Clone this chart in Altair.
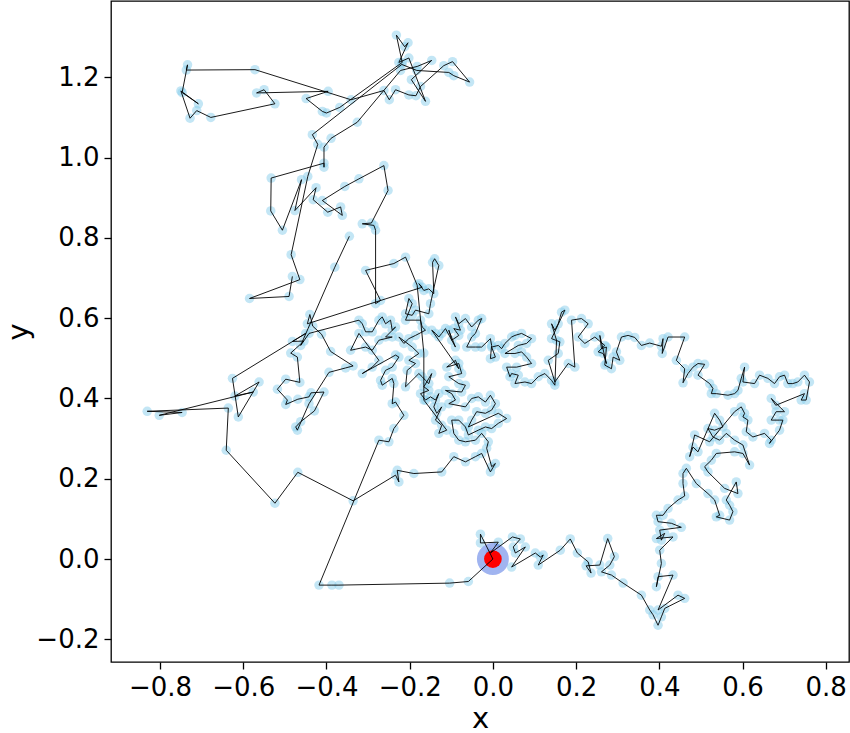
import altair as alt
import pandas as pd

# random-walk path (segments in path order)
seg_start = [
    (-0.345, 0.804), (-0.380, 0.727), (-0.462, 0.532), (-0.442, 0.562), (-0.322, 0.595),
    (-0.314, 0.586), (-0.306, 0.566), (-0.290, 0.566), (-0.274, 0.595), (-0.266, 0.603),
    (-0.258, 0.586), (-0.246, 0.595), (-0.242, 0.570), (-0.234, 0.578), (-0.258, 0.553),
    (-0.242, 0.553), (-0.274, 0.545), (-0.290, 0.520), (-0.306, 0.528), (-0.342, 0.520),
    (-0.322, 0.562), (-0.274, 0.495), (-0.290, 0.478), (-0.314, 0.462), (-0.234, 0.508),
    (-0.226, 0.503), (-0.242, 0.478), (-0.258, 0.470), (-0.270, 0.445), (-0.266, 0.433),
    (-0.242, 0.450), (-0.238, 0.437), (-0.242, 0.387), (-0.234, 0.391), (-0.214, 0.358),
    (-0.238, 0.325), (-0.250, 0.292), (-0.274, 0.296), (-0.418, -0.065), (-0.387, -0.065),
    (-0.370, -0.065), (-0.104, -0.060), (-0.059, -0.056),
]

seg_right = [
    (0.0, 0.0), (-0.030, 0.062), (-0.030, 0.040), (0.013, 0.042), (-0.006, 0.015),
    (0.047, 0.055), (0.066, 0.050), (0.049, 0.030), (0.054, 0.015), (0.078, 0.030),
    (0.045, -0.020), (0.102, 0.015), (0.114, 0.005), (0.121, 0.010), (0.109, -0.015),
    (0.162, 0.022), (0.186, 0.050), (0.203, 0.015), (0.229, -0.007), (0.236, -0.035),
    (0.224, -0.017), (0.257, -0.015), (0.276, 0.051), (0.292, 0.006), (0.281, -0.015),
    (0.261, -0.032), (0.285, -0.040), (0.313, -0.060), (0.357, -0.090), (0.377, -0.127),
    (0.385, -0.139), (0.397, -0.165), (0.405, -0.144), (0.413, -0.123), (0.461, -0.098),
    (0.445, -0.090), (0.397, -0.127), (0.433, -0.040), (0.397, -0.044), (0.393, -0.069),
    (0.405, -0.011), (0.401, 0.022), (0.433, 0.055), (0.393, 0.051), (0.413, 0.064),
    (0.405, 0.047), (0.401, 0.072), (0.453, 0.079), (0.429, 0.089), (0.397, 0.093),
    (0.393, 0.109), (0.409, 0.109), (0.421, 0.126), (0.445, 0.147), (0.461, 0.157),
    (0.457, 0.188), (0.457, 0.213), (0.465, 0.226), (0.489, 0.188), (0.517, 0.163),
    (0.533, 0.147), (0.545, 0.109), (0.537, 0.105), (0.569, 0.097), (0.577, 0.118),
    (0.569, 0.134), (0.561, 0.147), (0.585, 0.192), (0.589, 0.163), (0.557, 0.176),
    (0.517, 0.217), (0.509, 0.230), (0.525, 0.246), (0.537, 0.263), (0.581, 0.267),
    (0.601, 0.263), (0.617, 0.234), (0.601, 0.284), (0.581, 0.296), (0.561, 0.313),
    (0.545, 0.296), (0.529, 0.304), (0.517, 0.325), (0.533, 0.321), (0.553, 0.329),
    (0.545, 0.346), (0.533, 0.363), (0.493, 0.267), (0.481, 0.279), (0.473, 0.255),
    (0.485, 0.309), (0.521, 0.292), (0.581, 0.367), (0.597, 0.379), (0.605, 0.363),
    (0.601, 0.354), (0.613, 0.346), (0.609, 0.317), (0.625, 0.304), (0.653, 0.313),
    (0.669, 0.296), (0.665, 0.288), (0.689, 0.321), (0.697, 0.346), (0.689, 0.346),
    (0.669, 0.346), (0.681, 0.367), (0.701, 0.367), (0.669, 0.400), (0.680, 0.383),
    (0.749, 0.412), (0.741, 0.396), (0.753, 0.396), (0.761, 0.441), (0.749, 0.458),
    (0.733, 0.441), (0.721, 0.437), (0.709, 0.437), (0.701, 0.458), (0.689, 0.454),
    (0.677, 0.437), (0.661, 0.450), (0.641, 0.458), (0.629, 0.437), (0.601, 0.441),
    (0.605, 0.478), (0.597, 0.450), (0.589, 0.420), (0.581, 0.412), (0.565, 0.408),
    (0.537, 0.412), (0.525, 0.412), (0.529, 0.425), (0.521, 0.437), (0.493, 0.458),
    (0.509, 0.485), (0.493, 0.487), (0.481, 0.478), (0.469, 0.462), (0.457, 0.439),
    (0.461, 0.474), (0.441, 0.495), (0.461, 0.553), (0.421, 0.553), (0.407, 0.512),
    (0.409, 0.549), (0.405, 0.530), (0.377, 0.538), (0.357, 0.532), (0.341, 0.552),
    (0.325, 0.557), (0.309, 0.553), (0.297, 0.516), (0.305, 0.495), (0.289, 0.503),
    (0.285, 0.474), (0.269, 0.483), (0.273, 0.528), (0.261, 0.524), (0.257, 0.557),
    (0.273, 0.487), (0.265, 0.512), (0.253, 0.516), (0.269, 0.532), (0.245, 0.553),
    (0.221, 0.537), (0.205, 0.553), (0.229, 0.586), (0.213, 0.599), (0.189, 0.595),
    (0.197, 0.478), (0.181, 0.487), (0.149, 0.441), (0.133, 0.495), (0.157, 0.512),
    (0.161, 0.541), (0.141, 0.549), (0.173, 0.620), (0.165, 0.615), (0.157, 0.586),
    (0.149, 0.570), (0.141, 0.586), (0.153, 0.545), (0.149, 0.433), (0.141, 0.445),
    (0.125, 0.462), (0.109, 0.454), (0.093, 0.437), (0.077, 0.441), (0.053, 0.437),
    (0.061, 0.458), (0.045, 0.462), (0.041, 0.454), (0.033, 0.478), (0.057, 0.478),
    (0.093, 0.487), (0.081, 0.503), (0.069, 0.516), (0.053, 0.512), (0.029, 0.512),
    (0.061, 0.532), (0.081, 0.537), (0.093, 0.549), (0.069, 0.562), (0.053, 0.557),
    (0.045, 0.553), (0.029, 0.537), (0.021, 0.524), (0.013, 0.532), (-0.003, 0.528),
    (0.006, 0.503), (-0.006, 0.499), (-0.003, 0.532), (-0.006, 0.549), (-0.027, 0.528),
    (-0.042, 0.528), (-0.063, 0.528), (-0.051, 0.553), (-0.042, 0.562), (-0.027, 0.599),
    (-0.035, 0.595), (-0.051, 0.578), (-0.066, 0.599), (-0.082, 0.586), (-0.090, 0.603),
    (-0.078, 0.570), (-0.094, 0.574), (-0.082, 0.557), (-0.099, 0.545), (-0.106, 0.570),
    (-0.090, 0.528), (-0.114, 0.574), (-0.123, 0.562), (-0.130, 0.553), (-0.138, 0.562),
    (-0.147, 0.570),
]

seg_mid = [
    (-0.082, 0.474), (-0.090, 0.495), (-0.111, 0.478), (-0.082, 0.487), (-0.075, 0.462),
    (-0.106, 0.454), (-0.082, 0.437), (-0.066, 0.433), (-0.075, 0.416), (-0.114, 0.420),
    (-0.099, 0.412), (-0.090, 0.396), (-0.106, 0.387), (-0.066, 0.379), (-0.051, 0.400),
    (-0.035, 0.404), (-0.018, 0.391), (-0.006, 0.408), (0.006, 0.387), (-0.003, 0.371),
    (-0.018, 0.363), (-0.039, 0.367), (-0.051, 0.346), (-0.059, 0.329), (0.013, 0.363),
    (0.033, 0.350), (0.013, 0.338), (-0.003, 0.325), (-0.018, 0.329), (-0.035, 0.321),
    (-0.059, 0.309), (-0.066, 0.329), (-0.082, 0.346), (-0.099, 0.346), (-0.094, 0.313),
    (-0.082, 0.296), (-0.066, 0.292), (-0.042, 0.296), (-0.027, 0.313), (-0.011, 0.292),
    (-0.015, 0.276), (-0.003, 0.230), (0.006, 0.238), (-0.006, 0.217), (-0.027, 0.263),
    (-0.042, 0.255), (-0.066, 0.242), (-0.094, 0.255), (-0.123, 0.217), (-0.190, 0.213),
    (-0.230, 0.221), (-0.226, 0.192), (-0.234, 0.209),
]

seg_left = [
    (-0.336, 0.145), (-0.469, 0.216), (-0.524, 0.139), (-0.641, 0.271), (-0.636, 0.376),
    (-0.831, 0.368), (-0.747, 0.365), (-0.802, 0.358), (-0.576, 0.416), (-0.620, 0.406),
    (-0.562, 0.441), (-0.612, 0.354), (-0.626, 0.450), (-0.450, 0.562), (-0.482, 0.542),
    (-0.454, 0.543), (-0.486, 0.513), (-0.470, 0.503), (-0.464, 0.440), (-0.498, 0.448),
    (-0.518, 0.423), (-0.494, 0.396), (-0.498, 0.385), (-0.469, 0.398), (-0.442, 0.404),
    (-0.437, 0.414), (-0.406, 0.416), (-0.429, 0.369), (-0.462, 0.342), (-0.474, 0.329),
    (-0.470, 0.321), (-0.442, 0.387), (-0.394, 0.465), (-0.354, 0.476), (-0.336, 0.481),
    (-0.390, 0.517), (-0.412, 0.560), (-0.433, 0.580), (-0.440, 0.609), (-0.446, 0.586),
    (-0.170, 0.677), (-0.178, 0.686), (-0.166, 0.669), (-0.154, 0.673), (-0.142, 0.661),
    (-0.145, 0.739), (-0.140, 0.748), (-0.130, 0.731), (-0.150, 0.636), (-0.154, 0.611),
    (-0.186, 0.620), (-0.194, 0.607), (-0.210, 0.611), (-0.202, 0.649), (-0.194, 0.636),
    (-0.210, 0.595), (-0.174, 0.595), (-0.170, 0.578), (-0.162, 0.570), (-0.186, 0.557),
    (-0.202, 0.549), (-0.214, 0.537), (-0.226, 0.553), (-0.194, 0.528), (-0.178, 0.512),
    (-0.202, 0.495), (-0.186, 0.487), (-0.206, 0.470), (-0.210, 0.429), (-0.178, 0.462),
    (-0.170, 0.454), (-0.162, 0.445), (-0.154, 0.437), (-0.147, 0.462), (-0.166, 0.429),
    (-0.154, 0.420), (-0.174, 0.412), (-0.162, 0.396), (-0.150, 0.404), (-0.138, 0.396),
    (-0.130, 0.412), (-0.142, 0.379), (-0.135, 0.363), (-0.123, 0.379), (-0.138, 0.346),
    (-0.123, 0.333), (-0.130, 0.313), (-0.111, 0.321), (-0.166, 0.396), (-0.166, 0.513),
    (-0.182, 0.682), (-0.210, 0.752), (-0.238, 0.736), (-0.306, 0.719), (-0.270, 0.644),
    (-0.282, 0.636), (-0.282, 0.819), (-0.286, 0.831), (-0.314, 0.835), (-0.292, 0.837),
    (-0.252, 0.918), (-0.262, 0.980), (-0.322, 0.947), (-0.356, 0.928), (-0.410, 0.893),
    (-0.362, 0.856), (-0.366, 0.877), (-0.397, 0.864), (-0.432, 0.895), (-0.425, 0.925),
    (-0.476, 0.868), (-0.460, 0.945), (-0.506, 0.819), (-0.534, 0.867), (-0.533, 0.949),
    (-0.406, 0.986), (-0.406, 0.976), (-0.406, 1.026), (-0.389, 1.048), (-0.326, 1.088),
    (-0.222, 1.217), (-0.182, 1.227), (-0.147, 1.242), (-0.196, 1.194), (-0.162, 1.140),
    (-0.202, 1.248), (-0.226, 1.237), (-0.204, 1.286), (-0.212, 1.276), (-0.232, 1.305),
    (-0.218, 1.237), (-0.368, 1.125), (-0.400, 1.111), (-0.410, 1.115), (-0.449, 1.147),
    (-0.396, 1.165), (-0.568, 1.161), (-0.550, 1.169), (-0.524, 1.134), (-0.678, 1.100),
    (-0.712, 1.117), (-0.728, 1.098), (-0.750, 1.166), (-0.708, 1.134), (-0.747, 1.162),
    (-0.734, 1.231), (-0.737, 1.218), (-0.572, 1.219), (-0.341, 1.144), (-0.262, 1.167),
    (-0.249, 1.144), (-0.234, 1.169), (-0.202, 1.156), (-0.185, 1.154), (-0.174, 1.177),
    (-0.118, 1.229), (-0.097, 1.239), (-0.056, 1.188), (-0.094, 1.204), (-0.106, 1.212),
    (-0.183, 1.217), (-0.219, 1.232), (-0.434, 1.057), (-0.421, 1.033), (-0.445, 0.953),
    (-0.485, 0.758), (-0.464, 0.696), (-0.585, 0.649), (-0.490, 0.654), (-0.482, 0.704),
]

origin_x = [0.0]
origin_y = [0.0]

x_ticks = [-0.8, -0.6, -0.4, -0.2, 0.0, 0.2, 0.4, 0.6, 0.8]
y_ticks = [-0.2, 0.0, 0.2, 0.4, 0.6, 0.8, 1.0, 1.2]

path = seg_start + seg_right + seg_mid + seg_left
df = pd.DataFrame({
    "step": list(range(len(path))),
    "x": [p[0] for p in path],
    "y": [p[1] for p in path],
})
odf = pd.DataFrame({"x": origin_x, "y": origin_y})

xscale = alt.Scale(domain=[-0.918, 0.856], nice=False, zero=False)
yscale = alt.Scale(domain=[-0.2565, 1.390], nice=False, zero=False)

X = alt.X("x:Q", scale=xscale, axis=alt.Axis(
    title="x", values=x_ticks, format=".1f", labelFlush=False, labelOverlap=False,
    titleY=56, titleBaseline="middle"))
Y = alt.Y("y:Q", scale=yscale, axis=alt.Axis(
    title="y", values=y_ticks, format=".1f", labelFlush=False, labelOverlap=False,
    titleX=-93, titleBaseline="middle"))

pts = alt.Chart(df).mark_circle(size=90, color="#87CEEB", opacity=0.5).encode(x=X, y=Y)
big = alt.Chart(odf).mark_circle(size=1018, color="#4169E1", opacity=0.5).encode(x=X, y=Y)
red = alt.Chart(odf).mark_circle(size=314, color="#FF0000", opacity=1).encode(x=X, y=Y)
line = alt.Chart(df).mark_line(color="black", strokeWidth=0.9).encode(
    x=X, y=Y, order="step:Q")

chart = alt.layer(pts, big, red, line).properties(
    width=738, height=661,
    autosize=alt.AutoSizeParams(type="none"),
    padding={"left": 111, "top": 1, "right": 1, "bottom": 71},
    background="white",
).configure_view(
    stroke="black", strokeWidth=1.3
).configure_axis(
    domain=False, grid=False, ticks=True, tickColor="black", tickWidth=1.3,
    tickSize=7, labelFont="DejaVu Sans", labelFontSize=26, labelColor="black",
    labelPadding=5, titleFont="DejaVu Sans", titleFontSize=29,
    titleFontWeight="normal", titleColor="black",
)

chart.save("out.html", embed_options={"renderer": "svg", "actions": False})
